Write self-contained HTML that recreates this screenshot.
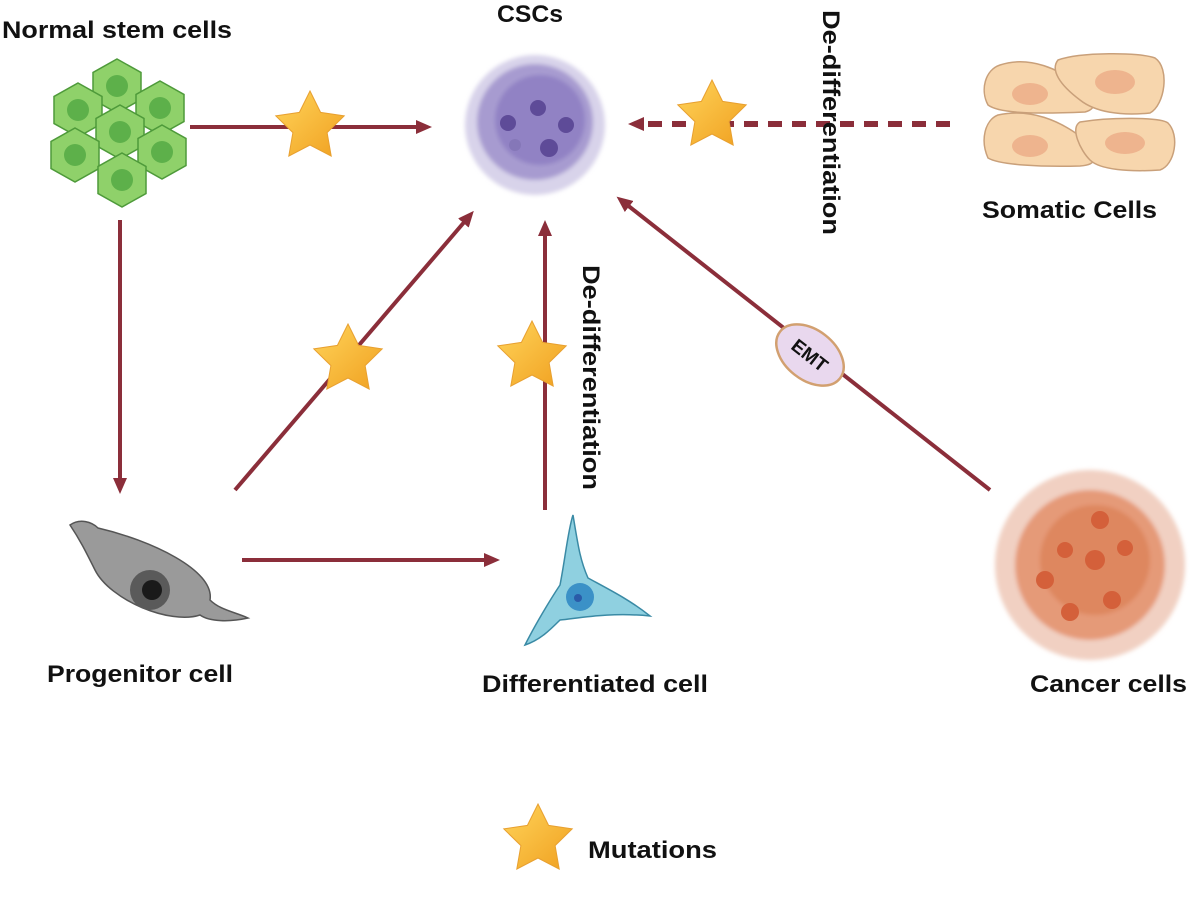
<!DOCTYPE html>
<html><head><meta charset="utf-8"><style>
html,body{margin:0;padding:0;background:#fff}
svg{display:block}
text{font-family:"Liberation Sans",sans-serif;font-weight:bold;fill:#111}
</style></head><body>
<svg width="1200" height="904" viewBox="0 0 1200 904" xmlns="http://www.w3.org/2000/svg">
<defs>
<linearGradient id="sg" x1="0" y1="0" x2="1" y2="1"><stop offset="0" stop-color="#ffd45a"/><stop offset="1" stop-color="#f0a020"/></linearGradient>
<path id="star" d="M0,-36 L10.6,-14.6 L34.2,-11.1 L17.1,5.6 L21.2,29.1 L0,18 L-21.2,29.1 L-17.1,5.6 L-34.2,-11.1 L-10.6,-14.6 Z" fill="url(#sg)" stroke="#e8a030" stroke-width="1"/>
<marker id="ah" markerWidth="16" markerHeight="14" refX="4" refY="7" orient="auto" markerUnits="userSpaceOnUse"><path d="M0,0 L16,7 L0,14 Z" fill="#8b2e3a"/></marker>
<path id="hex" d="M0,-27 L24,-13.5 L24,13.5 L0,27 L-24,13.5 L-24,-13.5 Z" fill="#8fd16a" stroke="#4e9a3a" stroke-width="1.5"/>
<filter id="bl"><feGaussianBlur stdDeviation="2"/></filter>
</defs>

<g stroke="#8b2e3a" stroke-width="4" fill="none">
<line x1="190" y1="127" x2="420" y2="127" marker-end="url(#ah)"/>
<line x1="950" y1="124" x2="640" y2="124" stroke-dasharray="14,10" stroke-width="6" marker-end="url(#ah)"/>
<line x1="120" y1="220" x2="120" y2="482" marker-end="url(#ah)"/>
<line x1="235" y1="490" x2="466" y2="220" marker-end="url(#ah)"/>
<line x1="545" y1="510" x2="545" y2="232" marker-end="url(#ah)"/>
<line x1="990" y1="490" x2="626" y2="204" marker-end="url(#ah)"/>
<line x1="242" y1="560" x2="488" y2="560" marker-end="url(#ah)"/>
</g>

<!-- stem cells -->
<g>
<use href="#hex" x="117" y="86"/><use href="#hex" x="78" y="110"/><use href="#hex" x="160" y="108"/>
<use href="#hex" x="120" y="132"/><use href="#hex" x="75" y="155"/><use href="#hex" x="162" y="152"/>
<use href="#hex" x="122" y="180"/>
<g fill="#5db04a"><circle cx="117" cy="86" r="11"/><circle cx="78" cy="110" r="11"/><circle cx="160" cy="108" r="11"/><circle cx="120" cy="132" r="11"/><circle cx="75" cy="155" r="11"/><circle cx="162" cy="152" r="11"/><circle cx="122" cy="180" r="11"/></g>
</g>

<!-- CSCs -->
<g filter="url(#bl)">
<circle cx="535" cy="125" r="70" fill="#d8d3ea"/>
<circle cx="535" cy="122" r="58" fill="#a79bd0"/>
<circle cx="540" cy="120" r="45" fill="#9182c4"/>
</g>
<g fill="#5e4b98"><circle cx="538" cy="108" r="8"/><circle cx="508" cy="123" r="8"/><circle cx="549" cy="148" r="9"/><circle cx="566" cy="125" r="8"/><circle cx="515" cy="145" r="6" fill="#8577b8"/></g>

<!-- somatic -->
<g stroke="#c9a07a" stroke-width="1.5" fill="#f7d6ad">
<path d="M1000,65 C1030,55 1060,70 1080,85 C1095,95 1100,108 1085,112 C1040,114 1000,114 988,105 C980,90 985,70 1000,65 Z"/>
<path d="M1058,60 C1080,52 1140,52 1155,58 C1170,68 1165,105 1150,113 C1120,116 1095,112 1080,100 C1060,85 1050,70 1058,60 Z"/>
<path d="M998,115 C1030,108 1060,120 1085,140 C1100,155 1098,165 1080,166 C1040,167 1000,165 988,158 C980,140 985,120 998,115 Z"/>
<path d="M1080,122 C1110,117 1160,117 1168,123 C1180,135 1175,165 1160,170 C1130,172 1100,170 1090,160 C1080,150 1070,128 1080,122 Z"/>
</g>
<g fill="#eeb48e"><ellipse cx="1030" cy="94" rx="18" ry="11"/><ellipse cx="1115" cy="82" rx="20" ry="12"/><ellipse cx="1030" cy="146" rx="18" ry="11"/><ellipse cx="1125" cy="143" rx="20" ry="11"/></g>

<!-- progenitor -->
<path d="M70,525 C80,518 92,522 98,528 C150,540 215,570 210,600 C220,610 235,612 248,618 C230,622 210,622 200,615 C170,625 110,600 95,570 C85,550 80,540 70,525 Z" fill="#9a9a9a" stroke="#555" stroke-width="1.5"/>
<circle cx="150" cy="590" r="20" fill="#5a5a5a"/><circle cx="152" cy="590" r="10" fill="#1a1a1a"/>

<!-- differentiated -->
<path d="M573,515 C578,545 580,560 588,578 C610,590 630,600 650,616 C610,612 580,618 560,620 C550,630 540,640 525,645 C535,625 550,600 560,585 C565,560 568,530 573,515 Z" fill="#8fd0e0" stroke="#3a8aa5" stroke-width="1.5"/>
<circle cx="580" cy="597" r="14" fill="#3b91c7"/><circle cx="578" cy="598" r="4" fill="#2a5ba8"/>

<!-- cancer -->
<g filter="url(#bl)">
<circle cx="1090" cy="565" r="95" fill="#f1d0c2"/>
<circle cx="1090" cy="565" r="75" fill="#e59a78"/>
<circle cx="1095" cy="560" r="55" fill="#de875f"/>
</g>
<g fill="#d4603a"><circle cx="1100" cy="520" r="9"/><circle cx="1065" cy="550" r="8"/><circle cx="1095" cy="560" r="10"/><circle cx="1045" cy="580" r="9"/><circle cx="1070" cy="612" r="9"/><circle cx="1112" cy="600" r="9"/><circle cx="1125" cy="548" r="8"/></g>

<!-- stars -->
<use href="#star" x="310" y="127"/>
<use href="#star" x="712" y="116"/>
<use href="#star" x="348" y="360"/>
<use href="#star" x="532" y="357"/>
<use href="#star" x="538" y="840"/>

<!-- EMT -->
<g transform="translate(810,355) rotate(38)">
<ellipse rx="38" ry="25" fill="#e9d8ee" stroke="#d2a070" stroke-width="2.5"/>
<text x="0" y="7" font-size="19" text-anchor="middle">EMT</text>
</g>

<text x="2" y="38" font-size="24" textLength="230" lengthAdjust="spacingAndGlyphs">Normal stem cells</text>
<text x="497" y="22" font-size="24" textLength="66" lengthAdjust="spacingAndGlyphs">CSCs</text>
<text x="982" y="218" font-size="24" textLength="175" lengthAdjust="spacingAndGlyphs">Somatic Cells</text>
<text x="47" y="682" font-size="24" textLength="186" lengthAdjust="spacingAndGlyphs">Progenitor cell</text>
<text x="482" y="692" font-size="24" textLength="226" lengthAdjust="spacingAndGlyphs">Differentiated cell</text>
<text x="1030" y="692" font-size="24" textLength="157" lengthAdjust="spacingAndGlyphs">Cancer cells</text>
<text x="588" y="858" font-size="24" textLength="129" lengthAdjust="spacingAndGlyphs">Mutations</text>
<text transform="translate(823,10) rotate(90)" font-size="24" textLength="225" lengthAdjust="spacingAndGlyphs">De-differentiation</text>
<text transform="translate(583,265) rotate(90)" font-size="24" textLength="225" lengthAdjust="spacingAndGlyphs">De-differentiation</text>
</svg>
</body></html>
